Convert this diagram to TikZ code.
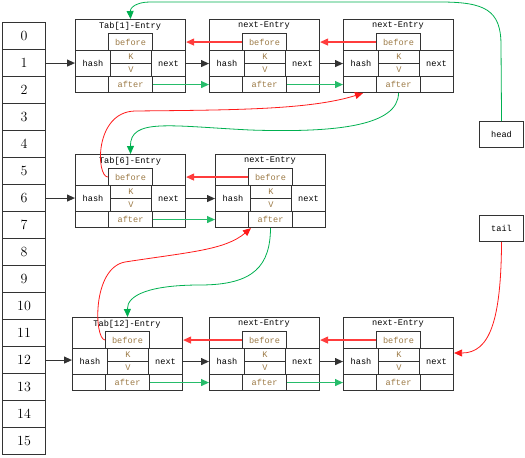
\documentclass[tikz,border=0pt]{standalone}
\usepackage{fontspec}
\newfontfamily\monofont{Liberation Mono}
\usetikzlibrary{positioning,calc,arrows.meta}
\definecolor{boxline}{HTML}{333333}
\definecolor{fieldtxt}{HTML}{9C7A46}
\definecolor{linkred}{HTML}{FF1A1A}
\definecolor{linkgreen}{HTML}{00B050}

\newcommand{\entrybox}[4]{%
\begin{scope}[shift={(#2,#3)}]
\node[cell,minimum width=110pt,minimum height=73pt] (#1) at (0,0) {};
\node[label text] at (55,7) {#4};
\node[cell,field,minimum width=44pt,minimum height=17pt] (#1b) at (33,14) {before};
\node[cell,minimum width=35pt,minimum height=26pt] (#1h) at (0,31) {hash};
\node[cell,field,minimum width=41pt,minimum height=13pt] (#1k) at (35,31) {K};
\node[cell,field,minimum width=41pt,minimum height=13pt] (#1v) at (35,44) {V};
\node[cell,minimum width=34pt,minimum height=26pt] (#1n) at (76,31) {next};
\node[cell,field,minimum width=44pt,minimum height=16pt] (#1a) at (33,57) {after};
\end{scope}}

\begin{document}
\begin{tikzpicture}[x=1pt,y=-1pt,
  cell/.style={draw=boxline,line width=1.1pt,anchor=north west,inner sep=0pt,
    font={\monofont\fontsize{8.6pt}{9pt}\selectfont}},
  field/.style={text=fieldtxt},
  label text/.style={inner sep=0pt,font={\monofont\fontsize{8.6pt}{9pt}\selectfont}},
  slot/.style={draw=boxline,line width=1.1pt,anchor=north west,inner sep=0pt,
    minimum width=43pt,minimum height=27pt,font=\fontsize{14pt}{14pt}\selectfont},
  ptr/.style={draw=boxline,line width=1.1pt,-{Triangle[length=8pt,width=7pt]}},
  back/.style={draw=linkred!85,line width=1.2pt,-{Triangle[length=8pt,width=7pt]}},
  fwd/.style={draw=linkgreen!85,line width=1.2pt,-{Triangle[length=8pt,width=7pt]}},
  rlink/.style={draw=linkred,line width=0.8pt,-{Triangle[length=8pt,width=7pt]}},
  glink/.style={draw=linkgreen,line width=0.8pt,-{Triangle[length=8pt,width=7pt]}}]
\useasboundingbox (0,0) rectangle (525,458);

\foreach \i in {0,...,15}
  \node[slot] (c\i) at (2,{22+27*\i}) {\i};

\entrybox{e1}{75}{19}{Tab[1]-Entry}
\entrybox{e2}{209}{19}{next-Entry}
\entrybox{e3}{343}{19}{next-Entry}
\entrybox{f1}{75}{154}{Tab[6]-Entry}
\entrybox{f2}{215}{154}{next-Entry}
\entrybox{g1}{72}{317}{Tab[12]-Entry}
\entrybox{g2}{209}{317}{next-Entry}
\entrybox{g3}{343}{317}{next-Entry}

\node[cell,minimum width=44pt,minimum height=26pt] (head) at (479,121) {head};
\node[cell,minimum width=44pt,minimum height=26pt] (tail) at (479,215) {tail};

\draw[ptr] (c1.east) -- (c1.east -| e1h.west);
\draw[ptr] (c6.east) -- (c6.east -| f1h.west);
\draw[ptr] (c12.east) -- (c12.east -| g1h.west);

\draw[ptr] (e1n.east) -- (e2h.west);
\draw[ptr] (e2n.east) -- (e3h.west);
\draw[ptr] (f1n.east) -- (f2h.west);
\draw[ptr] (g1n.east) -- (g2h.west);
\draw[ptr] (g2n.east) -- (g3h.west);

\draw[back] (e2b.west) -- (e2b.west -| e1.east);
\draw[back] (e3b.west) -- (e3b.west -| e2.east);
\draw[back] (f2b.west) -- (f2b.west -| f1.east);
\draw[back] (g2b.west) -- (g2b.west -| g1.east);
\draw[back] (g3b.west) -- (g3b.west -| g2.east);

\draw[fwd] (e1a.east) -- (e1a.east -| e2.west);
\draw[fwd] (e2a.east) -- (e2a.east -| e3.west);
\draw[fwd] (f1a.east) -- (f1a.east -| f2.west);
\draw[fwd] (g1a.east) -- (g1a.east -| g2.west);
\draw[fwd] (g2a.east) -- (g2a.east -| g3.west);

\draw[rlink] (f1b.west) .. controls (96,177) and (94,112) .. (135,111)
  .. controls (230,110) and (310,110) .. ($(e3.south west)+(20,0)$);
\draw[glink] (e3a.south) .. controls (398,125) and (340,133) .. (250,130)
  .. controls (170,126) and (130,118) .. (f1.north);
\draw[rlink] (g1b.west) .. controls (94,339) and (92,268) .. (125,262)
  .. controls (190,252) and (225,250) .. ($(f2.south west)+(36,0)$);
\draw[glink] (f2a.south) .. controls (270,265) and (255,285) .. (200,285)
  .. controls (150,285) and (127,295) .. (g1.north);

\draw[glink] (head.north) -- (501,45) .. controls (501,10) and (485,2) .. (440,2)
  -- (150,2) .. controls (136,2) and (130,8) .. (e1.north);
\draw[rlink] (tail.south) .. controls (501,320) and (490,353) .. ($(g3n.north east)+(0,5)$);
\end{tikzpicture}
\end{document}
